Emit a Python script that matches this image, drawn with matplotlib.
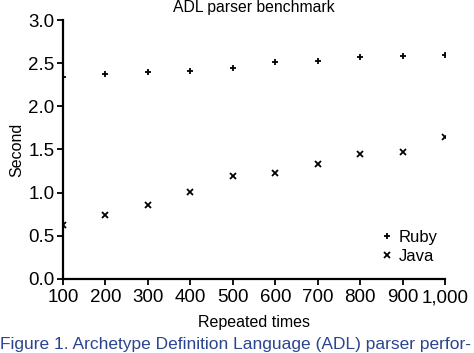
import matplotlib
matplotlib.use("Agg")
import matplotlib.pyplot as plt

plt.rcParams['font.family'] = ['Liberation Sans', 'DejaVu Sans']

repeats = [100, 200, 300, 400, 500, 600, 700, 800, 900, 1000]
ruby = [2.34, 2.38, 2.40, 2.41, 2.45, 2.51, 2.53, 2.57, 2.58, 2.60]
java = [0.63, 0.74, 0.86, 1.01, 1.19, 1.23, 1.33, 1.45, 1.47, 1.64]
xtick_labels = ['100', '200', '300', '400', '500', '600', '700', '800', '900', '1,000']

fig = plt.figure(figsize=(4.74, 3.53), dpi=100)
ax = fig.add_axes([0.133, 0.21, 0.806, 0.733])

ax.plot(repeats, ruby, linestyle='none', marker='+', color='black',
        markersize=5, markeredgewidth=1.3, label='Ruby')
ax.plot(repeats, java, linestyle='none', marker='x', color='black',
        markersize=4, markeredgewidth=1.3, label='Java')

ax.set_xlim(100, 1000)
ax.set_ylim(0, 3.0)
ax.set_xticks(repeats)
ax.set_xticklabels(xtick_labels)
ax.set_yticks([0, 0.5, 1.0, 1.5, 2.0, 2.5, 3.0])
ax.set_yticklabels(['0.0', '0.5', '1.0', '1.5', '2.0', '2.5', '3.0'])
ax.tick_params(labelsize=13.5, length=4, width=1.3, pad=2)
ax.tick_params(axis='x', pad=3.5)

for s in ['top', 'right']:
    ax.spines[s].set_visible(False)
for s in ['left', 'bottom']:
    ax.spines[s].set_linewidth(1.6)

ax.set_title('ADL parser benchmark', fontsize=11.3, pad=6)
ax.set_xlabel('Repeated times', fontsize=11.5, labelpad=6)
ax.set_ylabel('Second', fontsize=11.5, labelpad=3)

ax.legend(loc='lower right', bbox_to_anchor=(1.02, 0.0), frameon=False,
          fontsize=12, handletextpad=0.3, handlelength=0.8,
          borderaxespad=0.5, labelspacing=0.25)

fig.text(0.0, 0.002, 'Figure 1. Archetype Definition Language (ADL) parser perfor-',
         fontsize=12.5, color='#2b4590', va='bottom', ha='left')

fig.savefig('out.png', dpi=100)
